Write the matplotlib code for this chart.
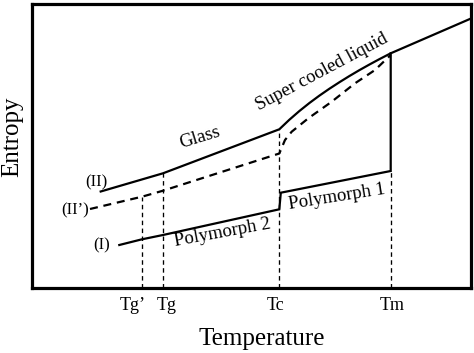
import matplotlib
matplotlib.use("Agg")
import matplotlib.pyplot as plt

plt.rcParams['font.family'] = ['Liberation Serif', 'DejaVu Serif']

# characteristic temperatures (arbitrary units)
T_labels = ["Tg\u2019", "Tg", "Tc", "Tm"]
T_pos = [110.0, 131.0, 247.3, 358.7]
T_label_x = [101.0, 135.0, 243.5, 360.5]

# (II) glass / supercooled liquid / liquid
glass_T = [68.7, 131.0, 247.3, 257.3, 267.3, 277.3, 287.3, 297.3, 307.3,
           317.3, 327.3, 337.3, 347.3, 358.7, 439.0]
glass_S = [96.5, 114.7, 158.7, 168.2, 176.9, 184.9, 192.3, 199.2, 205.7,
           211.9, 217.8, 223.4, 228.8, 234.7, 269.5]

# (II') slower-cooled glass (dashed)
glass2_T = [58.0, 110.0, 131.0, 247.3, 253.0, 259.7, 276.3, 299.7, 323.0, 343.0, 358.7]
glass2_S = [79.0, 91.3, 97.3, 134.5, 148.0, 156.3, 169.7, 186.3, 204.7, 218.0, 233.0]

# (I) crystalline polymorphs
cryst_T = [87.3, 110.0, 131.0, 247.3, 248.8, 358.7, 358.7]
cryst_S = [43.0, 48.7, 53.0, 78.7, 95.3, 117.0, 234.7]

# top of the vertical guide lines
guide_top = [91.3, 114.7, 158.7, 117.0]

fig = plt.figure(figsize=(4.74, 3.53), dpi=100)
ax = fig.add_axes([32/474, 1 - 288/353, (471 - 32)/474, (288 - 4)/353])
ax.set_xlim(0, 439)
ax.set_ylim(0, 284)
ax.set_xticks([])
ax.set_yticks([])
for s in ax.spines.values():
    s.set_linewidth(2.3)
    s.set_color('black')

ax.plot(glass_T, glass_S, color='black', lw=1.6, solid_joinstyle='round')
ax.plot(glass2_T, glass2_S, color='black', lw=1.6, linestyle=(0, (3.6, 2.6)))
ax.plot(cryst_T, cryst_S, color='black', lw=1.6, solid_joinstyle='miter')

for x, top in zip(T_pos, guide_top):
    ax.plot([x, x], [0, top], color='black', lw=0.95, linestyle=(0, (3.4, 2.6)))

for lab, x in zip(T_labels, T_label_x):
    ax.text(x, -18, lab, ha='center', va='center', fontsize=13, clip_on=False)

ax.text(64.7, 105.5, "(II)", ha='center', va='center', fontsize=12)
ax.text(43.0, 78.0, "(II\u2019)", ha='center', va='center', fontsize=12)
ax.text(69.7, 42.3, "(I)", ha='center', va='center', fontsize=12)

ax.text(168, 150, "Glass", ha='center', va='center', fontsize=13.5, rotation=17)
ax.text(290, 216, "Super cooled liquid", ha='center', va='center', fontsize=13.5, rotation=28)
ax.text(190.7, 55, "Polymorph 2", ha='center', va='center', fontsize=13.5, rotation=10.5)
ax.text(305, 91, "Polymorph 1", ha='center', va='center', fontsize=13.5, rotation=9)

fig.text(261.7/474, 1 - 339/353, "Temperature", ha='center', va='center', fontsize=18)
fig.text(12/474, 1 - 137/353, "Entropy", ha='center', va='center', fontsize=18, rotation=90)

fig.savefig("out.png", dpi=100)
